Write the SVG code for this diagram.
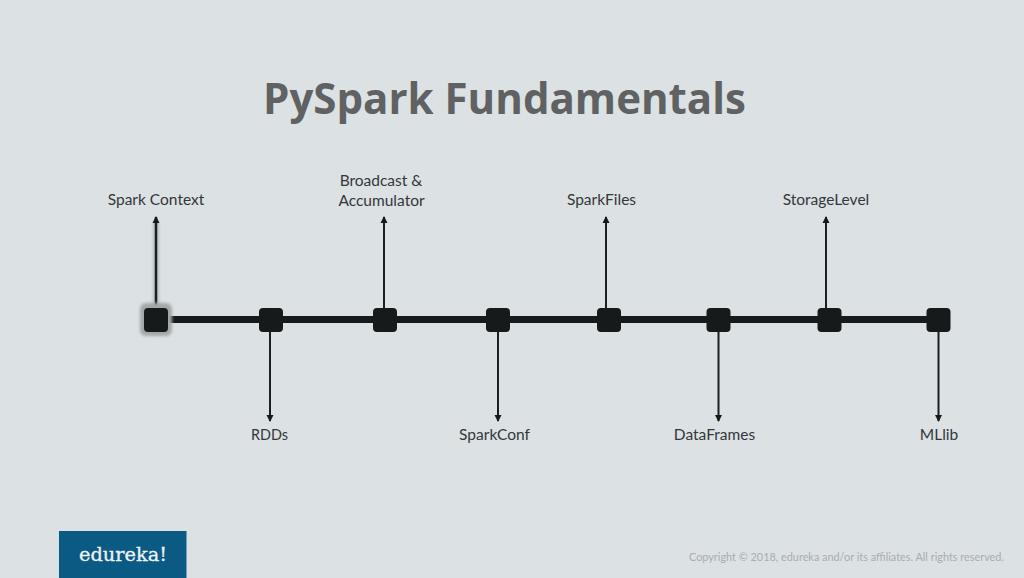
<svg xmlns="http://www.w3.org/2000/svg" width="1024" height="578" viewBox="0 0 1024 578">
<style>
.t{font-family:"Lato","Open Sans","Liberation Sans",sans-serif;font-size:15.5px;fill:#33373a;text-anchor:middle}
.n{fill:#161a1b}
.a{stroke:#1b1f20;stroke-width:2;fill:none;marker-end:url(#ah)}
</style>
<defs>
<marker id="ah" markerUnits="userSpaceOnUse" markerWidth="8" markerHeight="8" refX="6" refY="4" orient="auto"><path d="M0 0.5L7 4L0 7.5Z" fill="#161a1b"/></marker>
<filter id="glow" x="-50%" y="-50%" width="200%" height="200%"><feGaussianBlur stdDeviation="1.500"/></filter>
</defs>
<rect width="1024" height="578" fill="#dce1e4"/>
<text id="title" x="504.500" y="114" font-family="'Open Sans','Noto Sans',sans-serif" font-weight="700" font-size="43" fill="#5f6163" text-anchor="middle" textLength="483" lengthAdjust="spacingAndGlyphs">PySpark Fundamentals</text>
<g id="connectors">
<line x1="156" y1="319.500" x2="938" y2="319.500" stroke="#161a1b" stroke-width="7"/>
<rect x="153" y="222" width="6" height="86" fill="#a0a4a6" opacity=".6" filter="url(#glow)"/>
<line class="a" x1="156" y1="308" x2="156" y2="217" style="stroke-width:2.500"/>
<line class="a" x1="384" y1="308" x2="384" y2="217"/>
<line class="a" x1="606" y1="308" x2="606" y2="217"/>
<line class="a" x1="826" y1="308" x2="826" y2="217"/>
<line class="a" x1="270" y1="331" x2="270" y2="421"/>
<line class="a" x1="498" y1="331" x2="498" y2="421"/>
<line class="a" x1="718.500" y1="331" x2="718.500" y2="421"/>
<line class="a" x1="938.500" y1="331" x2="938.500" y2="421"/>
</g>
<g id="node-spark-context">
<rect x="140" y="303" width="32" height="33" rx="6" fill="#a3a7a8" filter="url(#glow)"/>
<rect class="n" x="144" y="308" width="24" height="24" rx="4"/>
<text class="t" x="156" y="205">Spark Context</text>
</g>
<g id="node-rdds"><rect class="n" x="259" y="308" width="24" height="24" rx="4"/><text class="t" x="269.500" y="440" textLength="37" lengthAdjust="spacingAndGlyphs">RDDs</text></g>
<g id="node-broadcast"><rect class="n" x="373" y="308" width="24" height="24" rx="4"/><text class="t" x="381" y="186">Broadcast &amp;</text><text class="t" x="381.500" y="206">Accumulator</text></g>
<g id="node-sparkconf"><rect class="n" x="486" y="308" width="24" height="24" rx="4"/><text class="t" x="494.500" y="440">SparkConf</text></g>
<g id="node-sparkfiles"><rect class="n" x="597" y="308" width="24" height="24" rx="4"/><text class="t" x="601.500" y="205">SparkFiles</text></g>
<g id="node-dataframes"><rect class="n" x="706.500" y="308" width="24" height="24" rx="4"/><text class="t" x="714.500" y="440">DataFrames</text></g>
<g id="node-storagelevel"><rect class="n" x="817.500" y="308" width="24" height="24" rx="4"/><text class="t" x="826" y="205">StorageLevel</text></g>
<g id="node-mllib"><rect class="n" x="926.500" y="308" width="24" height="24" rx="4"/><text class="t" x="939" y="440">MLlib</text></g>
<g id="logo"><rect x="59" y="531" width="127.500" height="47" fill="#0b5a84"/><text x="123" y="561" font-family="'DejaVu Serif',serif" font-size="19" fill="#eef3f5" stroke="#eef3f5" stroke-width=".3" text-anchor="middle" textLength="88" lengthAdjust="spacingAndGlyphs">edureka!</text></g>
<text id="copyright" x="1004" y="561" font-family="'Lato','Open Sans',sans-serif" font-size="11" fill="#a9adb0" text-anchor="end" textLength="315" lengthAdjust="spacingAndGlyphs">Copyright © 2018, edureka and/or its affiliates. All rights reserved.</text>
</svg>
